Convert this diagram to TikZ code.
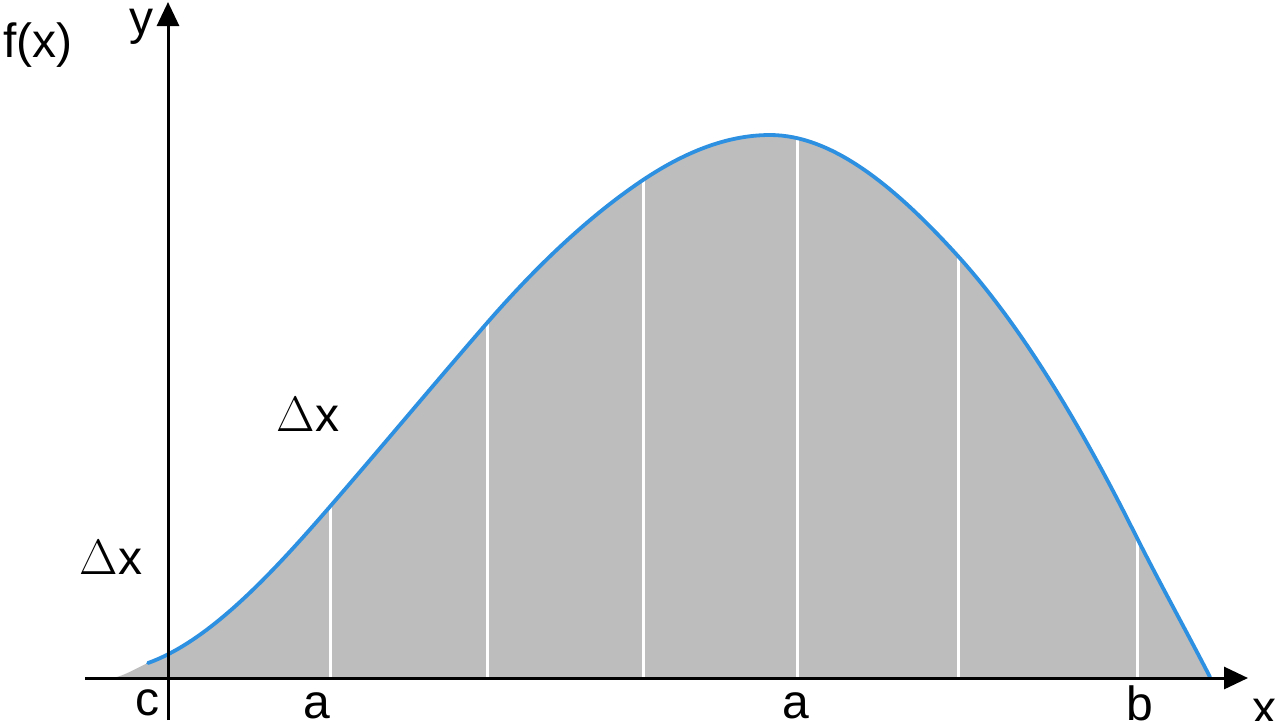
\documentclass[tikz,border=0pt]{standalone}
\usepackage{fontspec}
\setmainfont{Liberation Sans}
\usetikzlibrary{arrows.meta}
\definecolor{curveblue}{HTML}{2E90E0}
\definecolor{areagray}{HTML}{BDBDBD}
\tikzset{
  axis/.style={line width=1.5pt, -{Triangle[length=12pt,width=11pt]}},
  lbl/.style={font=\fontsize{24}{28}\selectfont, inner sep=0pt},
  strip/.style={white, line width=1.5pt},
  curve/.style={curveblue, line width=1.9pt, line cap=round}
}
\begin{document}
\begin{tikzpicture}[x=0.5pt,y=-0.5pt]
\useasboundingbox (0,0) rectangle (1280,720);
\def\curvepath{(148,663) .. controls (207.7,641.5) and (267.3,578.7) .. (327,510)
  .. controls (380.3,448.7) and (433.7,384.3) .. (487,323)
  .. controls (538,264.4) and (589,216.7) .. (640,182)
  .. controls (683.3,152.5) and (726.7,135) .. (770,135)
  .. controls (832.3,135) and (894.7,186.5) .. (957,255)
  .. controls (1015.7,319.5) and (1074.3,412.7) .. (1133,530)
  .. controls (1158.7,581.3) and (1184.3,627.2) .. (1210,677)}
% gray area
\fill[areagray] (112,678) .. controls (125,676) and (138,667) .. \curvepath -- (1210,678) -- cycle;
% white strips
\begin{scope}
  \clip (112,678) .. controls (125,676) and (138,667) .. \curvepath -- (1210,678) -- cycle;
  \foreach \xx in {330,487,643,797,958,1137}
    \draw[strip] (\xx,678) -- (\xx,100);
\end{scope}
% curve
\draw[curve] \curvepath;
% axes
\coordinate (xs) at (85,678);
\coordinate (xe) at (1248,678);
\coordinate (ys) at (168,720);
\coordinate (ye) at (168,2);
\draw[axis] (xs) -- (xe);
\draw[axis] (ys) -- (ye);
% labels
\node[lbl] (fx) at (38,45) {f(x)};
\node[lbl] (ylab) at (141,27) {y};
\node[lbl] (dx1) at (308,414) {$\Delta$x};
\node[lbl] (dx2) at (111,557) {$\Delta$x};
\node[lbl] (c) at (147,703) {c};
\node[lbl] (a1) at (317,706) {a};
\node[lbl] (a2) at (796,706) {a};
\node[lbl] (b) at (1140,703) {b};
\node[lbl] (xlab) at (1264,712) {x};
\end{tikzpicture}
\end{document}
